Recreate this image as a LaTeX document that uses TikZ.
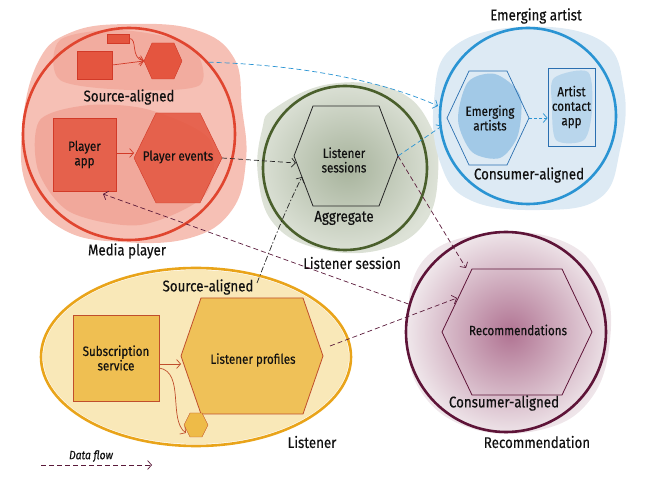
\documentclass[tikz,border=0pt]{standalone}
\usepackage{fontspec}
\setmainfont{Fira Sans}[FakeStretch=0.86, FakeBold=0.35]
\usetikzlibrary{arrows.meta,calc}
\definecolor{redS}{HTML}{E0452F}
\definecolor{redF}{HTML}{F5B9AD}
\definecolor{redD}{HTML}{E4553F}
\definecolor{redI}{HTML}{D23A28}
\definecolor{grnS}{HTML}{4A5F2C}
\definecolor{grnF}{HTML}{DDE2D7}
\definecolor{grnD}{HTML}{A7B39C}
\definecolor{bluS}{HTML}{2A94D3}
\definecolor{bluF}{HTML}{DDEAF4}
\definecolor{bluD}{HTML}{8FBEE3}
\definecolor{bluI}{HTML}{2A6FB0}
\definecolor{yelS}{HTML}{E9A41A}
\definecolor{yelF}{HTML}{F9E8B8}
\definecolor{yelD}{HTML}{EEBB48}
\definecolor{brnS}{HTML}{C04E2C}
\definecolor{marS}{HTML}{5E1438}
\definecolor{marF}{HTML}{EFE6EA}
\definecolor{marD}{HTML}{B07392}
\definecolor{flow}{HTML}{5A1A3A}
\definecolor{txt}{HTML}{111111}
\newcommand{\hexa}[7]{% name, cx, cy, hw, hh, ins, style
  \draw[#7] ({#2-#4},#3) -- ({#2-#4+#6},{#3-#5}) -- ({#2+#4-#6},{#3-#5}) -- ({#2+#4},#3)
     -- ({#2+#4-#6},{#3+#5}) -- ({#2-#4+#6},{#3+#5}) -- cycle;
  \coordinate (#1-w) at ({#2-#4},#3);
  \coordinate (#1-e) at ({#2+#4},#3);
}
\tikzset{
  tip/.style={-{Straight Barb[length=4pt,width=9pt]}},
  flowline/.style={tip, line width=0.7pt, dash pattern=on 5pt off 3pt},
  dashdot/.style={tip, line width=0.7pt, dash pattern=on 6pt off 2pt on 1.5pt off 2pt},
  lbl/.style={font=\fontsize{15.5}{17}\selectfont, text=txt, inner sep=0pt},
  inlbl/.style={font=\fontsize{13.5}{14.5}\selectfont, text=txt, align=center, inner sep=0pt},
  ring/.style={circle, line width=2.6pt, inner sep=0pt},
}
\begin{document}
\begin{tikzpicture}[x=1pt,y=-1pt]
\useasboundingbox (0,0) rectangle (654,478);
% ---------- watercolor washes
\fill[redF, opacity=0.9] plot[smooth cycle, tension=0.7] coordinates {(38,62) (72,32) (130,24) (196,30) (234,58) (242,108) (246,160) (232,210) (190,238) (122,242) (64,230) (28,190) (22,130)};
\fill[redD, opacity=0.22] plot[smooth cycle] coordinates {(40,120) (90,105) (150,110) (210,140) (205,195) (140,225) (70,212) (38,170)};
\fill[redD, opacity=0.18] plot[smooth cycle] coordinates {(60,40) (120,30) (190,45) (200,85) (130,90) (60,80)};
\shade[inner color=grnD, outer color=grnF] plot[smooth cycle, tension=0.7] coordinates {(275,108) (330,84) (395,90) (430,125) (438,175) (424,224) (380,250) (320,249) (274,224) (258,176) (262,130)};
\fill[bluF] plot[smooth cycle, tension=0.7] coordinates {(452,48) (520,27) (600,40) (624,90) (620,150) (600,198) (540,210) (470,200) (440,162) (434,100)};
\fill[bluD, opacity=0.75] plot[smooth cycle] coordinates {(468,82) (495,74) (520,95) (518,135) (500,158) (472,152) (458,120)};
\fill[bluD, opacity=0.45] plot[smooth cycle] coordinates {(554,78) (588,72) (592,110) (584,140) (556,140) (552,105)};
\fill[yelF] (196,357) ellipse (153 and 87);
\shade[inner color=marD, outer color=marF] plot[smooth cycle, tension=0.7] coordinates {(422,262) (482,234) (560,240) (602,280) (610,340) (590,400) (540,430) (470,428) (420,390) (408,330)};
% ---------- rings
\node[ring, draw=redS, minimum size=212pt] (mpc) at (129,134) {};
\node[ring, draw=grnS, minimum size=164pt] (lsc) at (345,168) {};
\node[ring, draw=bluS, minimum size=176pt] (eac) at (528,116) {};
\node[ring, draw=marS, minimum size=200pt] (rcc) at (506,332) {};
\draw[yelS, line width=2.6pt] (196,357) ellipse (155 and 89);
% ---------- media player inner
\node[draw=redI, fill=redD, minimum width=22pt, minimum height=9pt, inner sep=0pt] (tiny) at (118,38.5) {};
\node[draw=redI, fill=redD, minimum width=35pt, minimum height=28pt, inner sep=0pt] (sq) at (94.5,65) {};
\hexa{sh}{163}{61}{19}{18}{8}{draw=redI, fill=redD}
\draw[redI, tip, line width=0.7pt] (sq.east) -- (sh-w);
\draw[redI, tip, line width=0.7pt] (tiny.east) .. controls (138,38) and (130,58) .. (sh-w);
\node[lbl] (sa1) at (129,97) {Source-aligned};
\node[draw=redI, fill=redD, fill opacity=0.85, text opacity=1, minimum width=63pt, minimum height=73pt, inner sep=0pt, inlbl] (pa) at (84.5,154.5) {Player\\app};
\hexa{pe}{178}{158}{44}{45}{22}{draw=redI, fill=redD, fill opacity=0.85}
\node[inlbl] (pet) at (178,157) {Player events};
\draw[redI, tip, line width=0.7pt] (pa.east |- 0,153) -- ($(pe-w)+(0,-5)$);
\node[lbl] (mpl) at (127,251) {Media player};
% ---------- listener session inner
\hexa{ls}{346}{156}{52}{50}{19}{draw=black!85, line width=0.8pt}
\node[inlbl] (lst) at (344,160) {Listener\\sessions};
\node[lbl] (agg) at (344,218) {Aggregate};
\node[lbl] (lsl) at (352,263) {Listener session};
% ---------- emerging artist inner
\hexa{ea}{488}{118}{41}{47}{22}{draw=bluI, line width=0.7pt}
\node[inlbl] (eat) at (490,118) {Emerging\\artists};
\node[draw=bluI, line width=0.7pt, minimum width=47pt, minimum height=78pt, inner sep=0pt, inlbl] (aca) at (571.5,107) {Artist\\contact\\app};
\draw[bluS, tip, line width=0.7pt, dash pattern=on 3pt off 2pt] (ea-e) -- (aca.west |- ea-e);
\node[lbl] (ca1) at (529,175) {Consumer-aligned};
\node[lbl] (eal) at (536,16) {Emerging artist};
% ---------- listener inner
\node[lbl] (sa2) at (208,287) {Source-aligned};
\node[draw=brnS, fill=yelD, fill opacity=0.9, text opacity=1, minimum width=86pt, minimum height=86pt, inner sep=0pt, inlbl] (ss) at (116,358) {Subscription\\service};
\hexa{lp}{252}{356}{71}{58}{20}{draw=brnS, line width=0.8pt, fill=yelD, fill opacity=0.85}
\node[inlbl] (lpt) at (253,360) {Listener profiles};
\hexa{yh}{196}{425}{12}{12}{6}{draw=brnS, fill=yelD}
\draw[brnS, tip, line width=0.7pt] (ss.east |- 0,364) -- (lp-w |- 0,364);
\draw[brnS, tip, line width=0.7pt] (ss.east |- 0,368) .. controls (185,372) and (168,420) .. ($(yh-w)+(2,8)$);
\node[lbl] (lil) at (312,442) {Listener};
% ---------- recommendation inner
\hexa{rc}{517}{332}{75}{63}{30}{draw=marS, line width=0.8pt}
\node[inlbl] (rct) at (518,330) {Recommendations};
\node[lbl] (ca2) at (504,403) {Consumer-aligned};
\node[lbl] (rcl) at (537,442) {Recommendation};
% ---------- data-flow connectors
\coordinate (lpN) at (257,283);
\coordinate (lpE) at (330,346);
\coordinate (rcA) at (457,298);
\coordinate (rcB) at (466,268);
\coordinate (paB) at (103,194);
\coordinate (eaA) at (438,106);
\coordinate (eaB) at (442,126);
\coordinate (lsA) at (296,163);
\coordinate (lsB) at (302,177);
\draw[bluS, flowline] (mpc.42) .. controls (300,65) and (380,80) .. (eaA);
\draw[bluS, flowline] (ls-e) -- (eaB);
\draw[black!85, flowline] (pe-e) -- (lsA);
\draw[black!85, dashdot] (lpN) .. controls (268,255) and (285,210) .. (lsB);
\draw[flow, flowline] (ls-e) -- (rcB);
\draw[flow, flowline] (rcc.164) -- (paB);
\draw[flow, flowline] (lpE) -- (rcA);
% ---------- legend
\coordinate (lgA) at (41,465);
\coordinate (lgB) at (152,465);
\draw[flow, flowline] (lgA) -- (lgB);
\node[font=\fontsize{12}{13}\selectfont\itshape, text=txt, inner sep=0pt] (lgt) at (91,456) {Data flow};
\end{tikzpicture}
\end{document}
